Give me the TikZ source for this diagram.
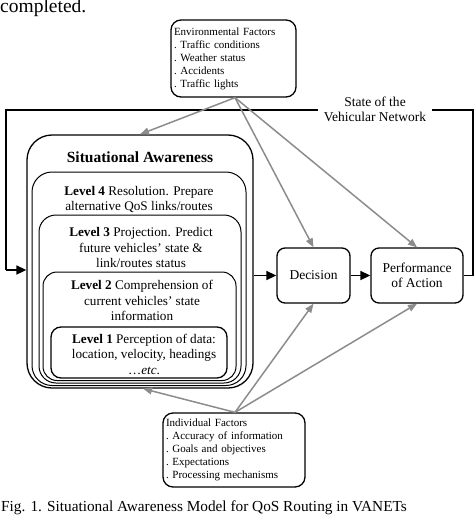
\documentclass[tikz,border=0pt]{standalone}
\usepackage{fontspec}
\setmainfont{Liberation Serif}
\usetikzlibrary{arrows.meta}
\definecolor{arrgray}{RGB}{140,140,140}
\tikzset{
  x=1pt,y=-1pt,
  blk/.style={line width=1.6pt,black},
  blkarrow/.style={blk,-{Triangle[length=10pt,width=9pt]}},
  grayarrow/.style={line width=1.5pt,arrgray,-{Triangle[length=9pt,width=7pt]}},
  factorbox/.style={draw,line width=1.3pt,rounded corners=10pt,align=left,inner sep=0pt,font=\fontsize{11}{13}\selectfont\frenchspacing},
  procbox/.style={draw,line width=1.3pt,rounded corners=8pt,align=center,inner sep=0pt,font=\fontsize{13.5}{15.5}\selectfont},
  lvlbox/.style={draw,line width=1pt},
  lvltext/.style={align=center,inner sep=0pt,font=\fontsize{13.2}{15.5}\selectfont},
}
\begin{document}
\begin{tikzpicture}
\useasboundingbox (0,0) rectangle (474,516);
% cut text at top
\node[anchor=base west,inner sep=0pt,font=\fontsize{19.5}{22}\selectfont] (prev) at (0,13) {completed.};
% factor boxes
\node[factorbox,minimum width=125pt,minimum height=77pt,text width=119pt] (env) at (233.5,58.5)
  {Environmental Factors\\. Traffic conditions\\. Weather status\\. Accidents\\. Traffic lights};
\node[factorbox,minimum width=142pt,minimum height=74pt,text width=136pt] (ind) at (234,450)
  {Individual Factors\\. Accuracy of information\\. Goals and objectives\\. Expectations\\. Processing mechanisms};
% situational awareness
\node[draw,line width=1.3pt,rounded corners=25pt,minimum width=226pt,minimum height=253pt,inner sep=0pt] (sa) at (140,261.5) {};
\draw[lvlbox,rounded corners=20pt] (32,172) rectangle (246,385.5);
\draw[lvlbox,rounded corners=17pt] (39,215) rectangle (241,383);
\draw[lvlbox,rounded corners=14pt] (43,272) rectangle (236,380.5);
\draw[lvlbox,line width=1.3pt,rounded corners=10pt] (51,327) rectangle (227,378);
\node[inner sep=0pt,font=\fontsize{15.5}{17}\selectfont\bfseries] (satitle) at (140,157) {Situational Awareness};
\node[lvltext] (l4) at (139,199.5) {\textbf{Level 4} Resolution. Prepare\\alternative QoS links/routes};
\node[lvltext] (l3) at (141,247.5) {\textbf{Level 3} Projection. Predict\\future vehicles' state \&\\link/routes status};
\node[lvltext] (l2) at (142,300.5) {\textbf{Level 2} Comprehension of\\current vehicles' state\\information};
\node[lvltext] (l1) at (144,354) {\textbf{Level 1} Perception of data:\\location, velocity, headings\\\ldots\textit{etc}.};
% decision / performance
\node[procbox,minimum width=73pt,minimum height=55pt] (dec) at (313.5,275.5) {Decision};
\node[procbox,minimum width=92pt,minimum height=55pt] (perf) at (417,275.5) {Performance\\of Action};
% black flow
\draw[blkarrow] (dec.west -| sa.east) -- (dec.west);
\draw[blkarrow] (dec.east) -- (perf.west);
\coordinate (fbr) at (473,110);
\coordinate (fbl) at (6,270);
\draw[blk] (perf.east) -| (fbr) -| (fbl);
\draw[blkarrow] (fbl) -- (fbl -| sa.west);
\node[fill=white,inner xsep=6pt,inner ysep=1pt,align=center,font=\fontsize{13.5}{15}\selectfont] (state) at (375,109) {State of the\\Vehicular Network};
% gray influences
\draw[grayarrow] ([xshift=1.5pt]env.south) -- (sa.north);
\draw[grayarrow] ([xshift=1.5pt]env.south) -- (dec.north);
\draw[grayarrow] ([xshift=1.5pt]env.south) -- (perf.north);
\draw[grayarrow] ([xshift=1pt]ind.north) -- ([xshift=3pt]sa.south);
\draw[grayarrow] ([xshift=1pt]ind.north) -- (dec.south);
\draw[grayarrow] ([xshift=1pt]ind.north) -- (perf.south);
% caption
\node[anchor=base west,inner sep=0pt,font=\fontsize{15.3}{18}\selectfont] (cap) at (1,511) {Fig. 1. Situational Awareness Model for QoS Routing in VANETs};
\end{tikzpicture}
\end{document}
